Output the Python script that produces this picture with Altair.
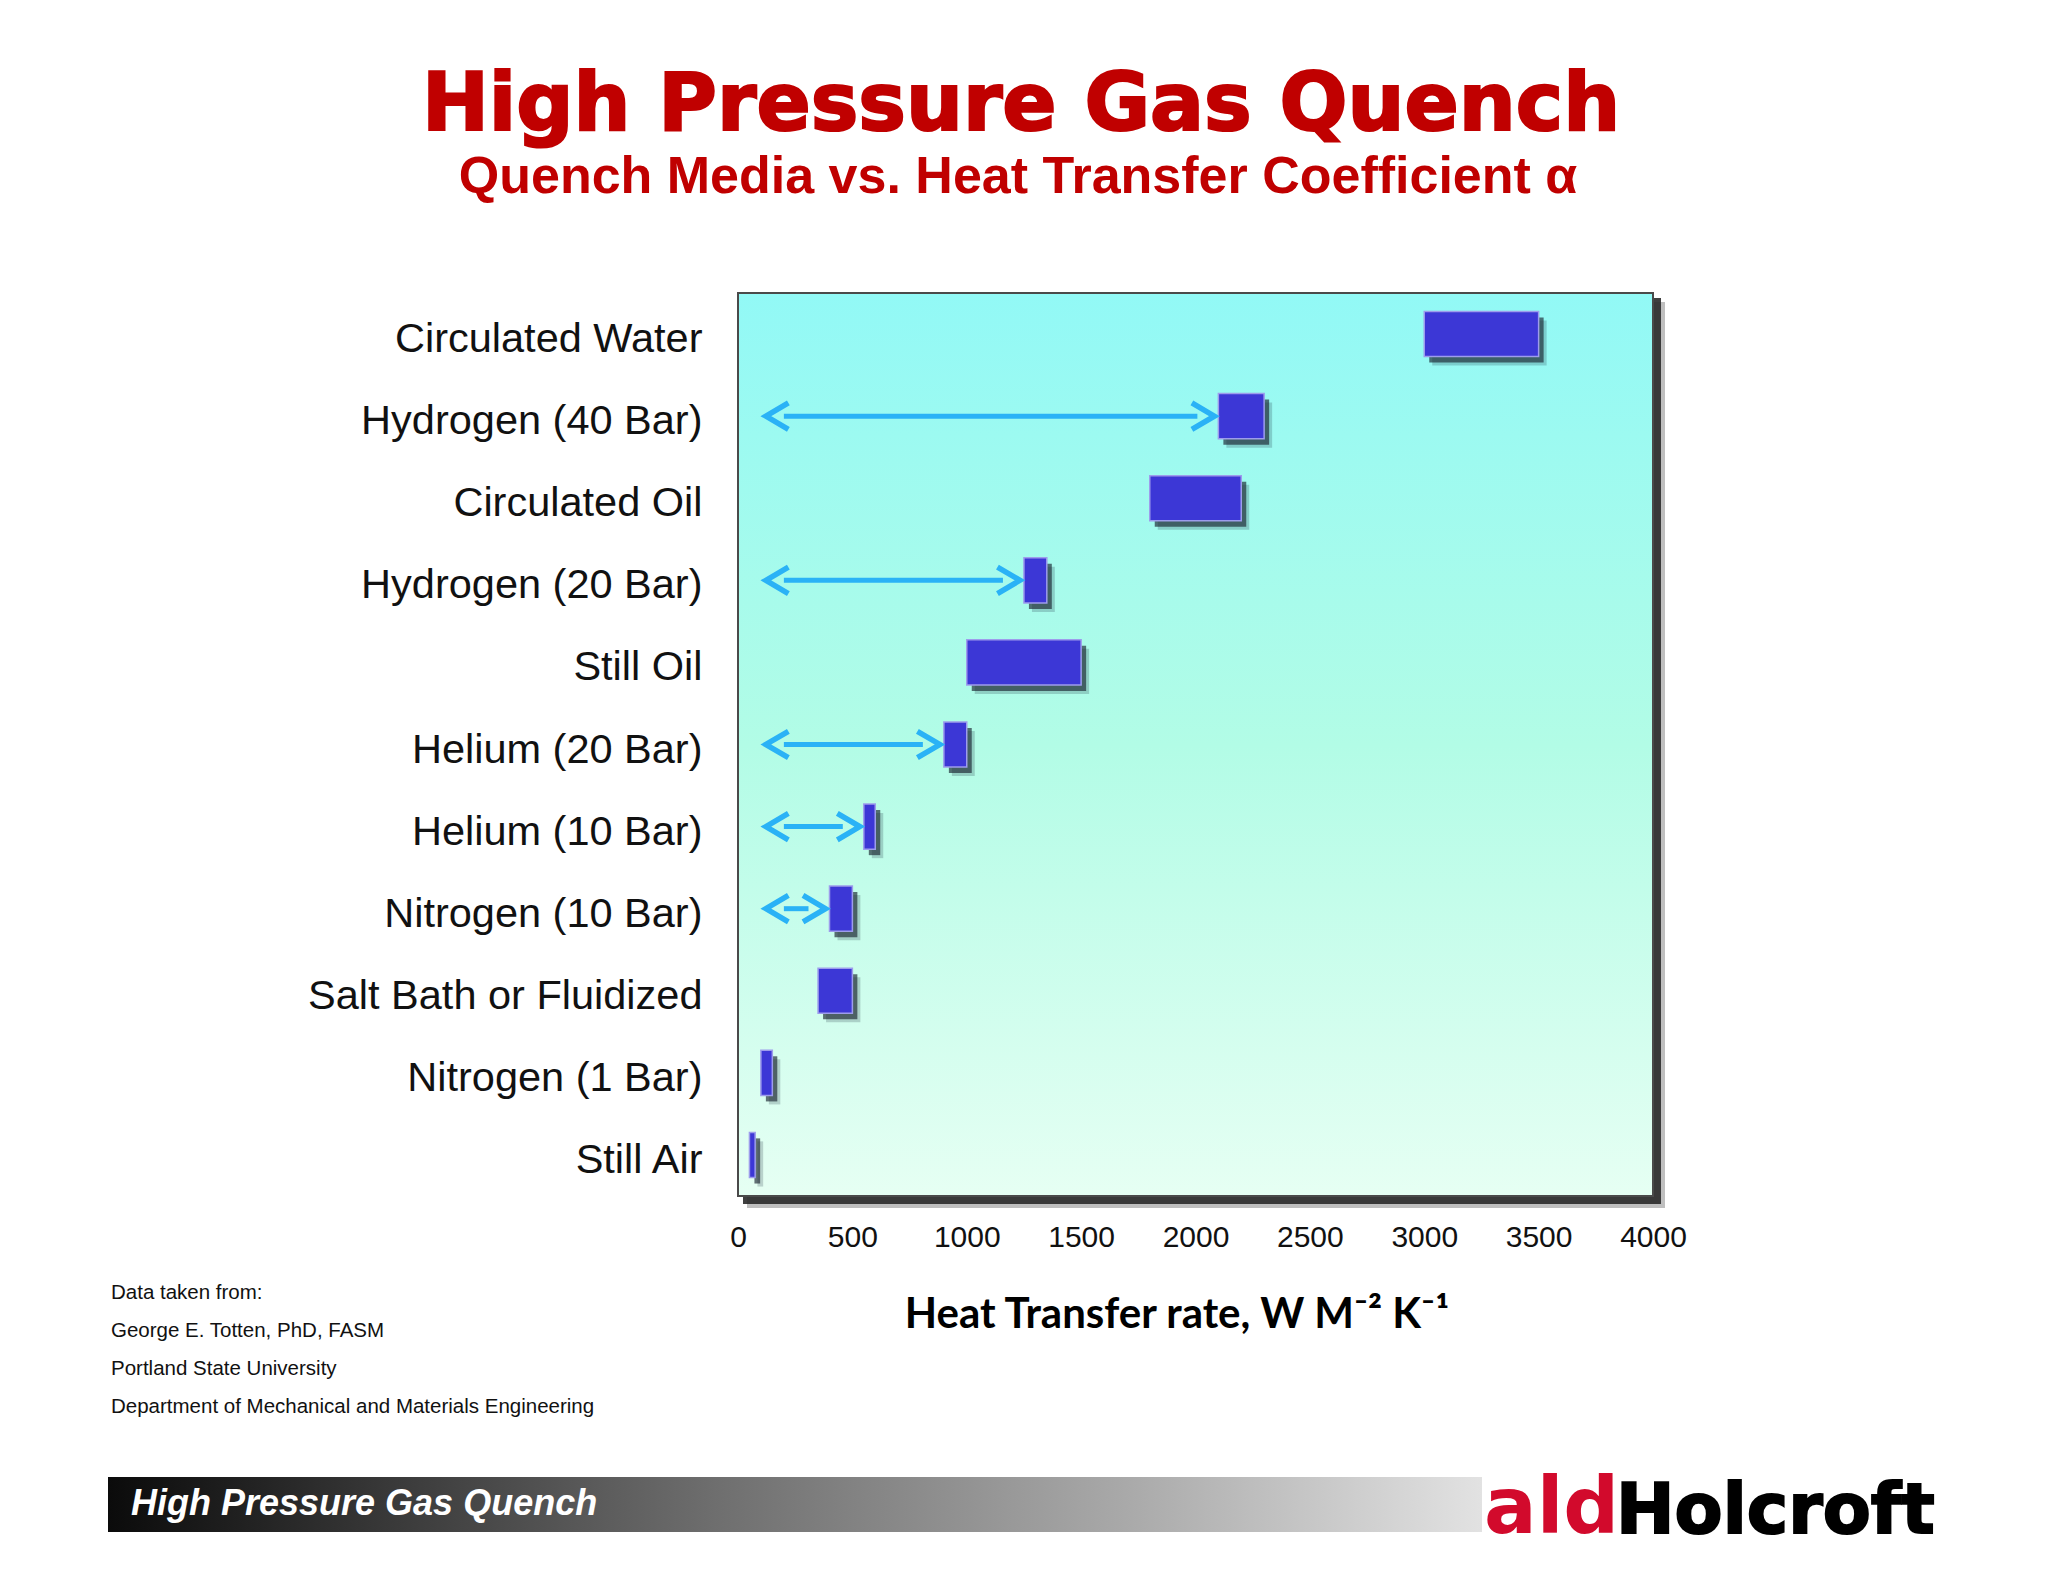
import altair as alt
import pandas as pd

# ---------------- data ----------------
categories = ["Circulated Water", "Hydrogen (40 Bar)", "Circulated Oil", "Hydrogen (20 Bar)",
              "Still Oil", "Helium (20 Bar)", "Helium (10 Bar)", "Nitrogen (10 Bar)",
              "Salt Bath or Fluidized", "Nitrogen (1 Bar)", "Still Air"]
alpha_low = [3000, 2100, 1800, 1250, 1000, 900, 550, 400, 350, 100, 50]
alpha_high = [3500, 2300, 2200, 1350, 1500, 1000, 600, 500, 500, 150, 75]

arrow_media = ["Hydrogen (40 Bar)", "Hydrogen (20 Bar)", "Helium (20 Bar)",
               "Helium (10 Bar)", "Nitrogen (10 Bar)"]
arrow_from = [100, 100, 100, 100, 100]
arrow_to = [2100, 1250, 900, 550, 400]

x_ticks = [0, 500, 1000, 1500, 2000, 2500, 3000, 3500, 4000]

title_text = "High Pressure Gas Quench"
subtitle_text = "Quench Media vs. Heat Transfer Coefficient \u03b1"
x_title_text = "Heat Transfer rate, W M\u207b\u00b2 K\u207b\u00b9"
source_lines = ["Data taken from:", "George E. Totten, PhD, FASM",
                "Portland State University",
                "Department of Mechanical and Materials Engineering"]
footer_text = "High Pressure Gas Quench"

bars_df = pd.DataFrame({"medium": categories, "lo": alpha_low, "hi": alpha_high})
arrows_df = pd.DataFrame({"medium": arrow_media, "lo": arrow_from, "hi": arrow_to})
one = pd.DataFrame({"d": [0]})

# ---------------- layout ----------------
W, H = 915, 903
RED = "#c00000"
BAR = "#3c37d6"
ARROW = "#2ab2f6"

xscale = alt.Scale(domain=[0, 4000], nice=False, zero=True)
yscale = alt.Scale(domain=categories, paddingInner=0.45, paddingOuter=0.225)

xaxis = alt.Axis(values=x_ticks, format="d", domain=False, ticks=False, tickSize=0, grid=False,
                 labelFont="Liberation Sans", labelFontSize=30, labelColor="#111111",
                 labelPadding=26, labelFlush=False, title=None)
yaxis = alt.Axis(domain=False, ticks=False, tickSize=0, grid=False,
                 labelFont="Liberation Sans", labelFontSize=41.5, labelColor="#111111",
                 labelPadding=36, labelOffset=6, labelLimit=700, title=None)

X = alt.X("lo:Q", scale=xscale, axis=xaxis)
X2 = alt.X2("hi")
Y = alt.Y("medium:N", scale=yscale, axis=yaxis, sort=categories)

bg_grad = alt.LinearGradient(
    gradient="linear", x1=0, x2=0, y1=0, y2=1,
    stops=[alt.GradientStop(color="#92f9f6", offset=0),
           alt.GradientStop(color="#b2fce6", offset=0.5),
           alt.GradientStop(color="#e6fff3", offset=1)])

footer_grad = alt.LinearGradient(
    gradient="linear", x1=0, x2=1, y1=0, y2=0,
    stops=[alt.GradientStop(color="#0b0b0b", offset=0),
           alt.GradientStop(color="#161616", offset=0.05),
           alt.GradientStop(color="#707070", offset=0.45),
           alt.GradientStop(color="#ababab", offset=0.75),
           alt.GradientStop(color="#e2e2e2", offset=1)])

# plot frame shadow + gradient background
frame_shadow_soft = alt.Chart(one).mark_rect(color="#000000", opacity=0.25).encode(
    x=alt.value(9), x2=alt.value(W + 12), y=alt.value(9), y2=alt.value(H + 12))
frame_shadow = alt.Chart(one).mark_rect(color="#2a2a2a", opacity=0.9).encode(
    x=alt.value(5), x2=alt.value(W + 8), y=alt.value(5), y2=alt.value(H + 8))
frame = alt.Chart(one).mark_rect(fill=bg_grad, stroke="#4a4a4a", strokeWidth=2).encode(
    x=alt.value(0), x2=alt.value(W), y=alt.value(0), y2=alt.value(H))

# bars with shadows
bar_shadow_soft = alt.Chart(bars_df).mark_rect(color="#102030", opacity=0.2,
                                                xOffset=8, x2Offset=8, yOffset=9).encode(x=X, x2=X2, y=Y)
bar_shadow = alt.Chart(bars_df).mark_rect(color="#1a2430", opacity=0.65,
                                           xOffset=5, x2Offset=5, yOffset=6).encode(x=X, x2=X2, y=Y)
bars = alt.Chart(bars_df).mark_rect(color=BAR, stroke="#9d9cec", strokeWidth=1.5).encode(
    x=X, x2=X2, y=Y)

# arrows
arrow_line = alt.Chart(arrows_df).mark_rule(color=ARROW, strokeWidth=5,
                                            xOffset=23, x2Offset=-21).encode(x=X, x2=X2, y=Y)
left_head = alt.Chart(arrows_df).mark_point(
    shape="M 1.7 -1 L 0 0 L 1.7 1", filled=False, size=700, strokeWidth=5.5,
    color=ARROW, opacity=1, xOffset=5).encode(x=X, y=Y)
right_head = alt.Chart(arrows_df).mark_point(
    shape="M -1.7 -1 L 0 0 L -1.7 1", filled=False, size=700, strokeWidth=5.5,
    color=ARROW, opacity=1, xOffset=-4).encode(x=alt.X("hi:Q", scale=xscale, axis=xaxis), y=Y)

# texts
def txt(text, x, y, **kw):
    return alt.Chart(one).mark_text(text=text, **kw).encode(x=alt.value(x), y=alt.value(y))

title = txt(title_text, 283, -163, font="DejaVu Sans", fontWeight="bold", fontSize=80,
            color=RED, stroke=RED, strokeWidth=2.2, align="center", baseline="alphabetic")
subtitle = txt(subtitle_text, 280, -100, font="Liberation Sans", fontWeight="bold",
               fontSize=52, color=RED, align="center", baseline="alphabetic")
x_title = txt(x_title_text, 439, 1035, font="Lato", fontWeight="bold", fontSize=42,
              color="#000000", align="center", baseline="alphabetic")

src_layers = []
for i, line in enumerate(source_lines):
    src_layers.append(txt(line, -627, 1000 + 38 * i, font="Liberation Sans", fontSize=20.5,
                          color="#111111", align="left", baseline="middle"))

footer_bar = alt.Chart(one).mark_rect(fill=footer_grad).encode(
    x=alt.value(-630), x2=alt.value(744), y=alt.value(1184), y2=alt.value(1239))
footer_label = txt(footer_text, -607, 1222, font="Liberation Sans", fontWeight="bold",
                   fontStyle="italic", fontSize=36, color="#ffffff", align="left",
                   baseline="alphabetic")
logo_ald = txt("ald", 746, 1240, font="DejaVu Sans", fontWeight="bold", fontSize=78,
               color="#d20a2c", align="left", baseline="alphabetic")
logo_holcroft = txt("Holcroft", 878, 1240, font="DejaVu Sans", fontWeight="bold", fontSize=70,
                    color="#000000", stroke="#000000", strokeWidth=2, align="left",
                    baseline="alphabetic")

chart = alt.layer(
    frame_shadow_soft, frame_shadow, frame,
    bar_shadow_soft, bar_shadow, bars,
    arrow_line, left_head, right_head,
    title, subtitle, x_title, *src_layers,
    footer_bar, footer_label, logo_ald, logo_holcroft,
).properties(
    width=W, height=H,
    padding={"left": 730, "top": 285, "right": 387, "bottom": 378},
    autosize=alt.AutoSizeParams(type="none"),
    background="#ffffff",
).configure_view(strokeOpacity=0)

chart.save("out.html", embed_options={"renderer": "svg", "actions": False})
